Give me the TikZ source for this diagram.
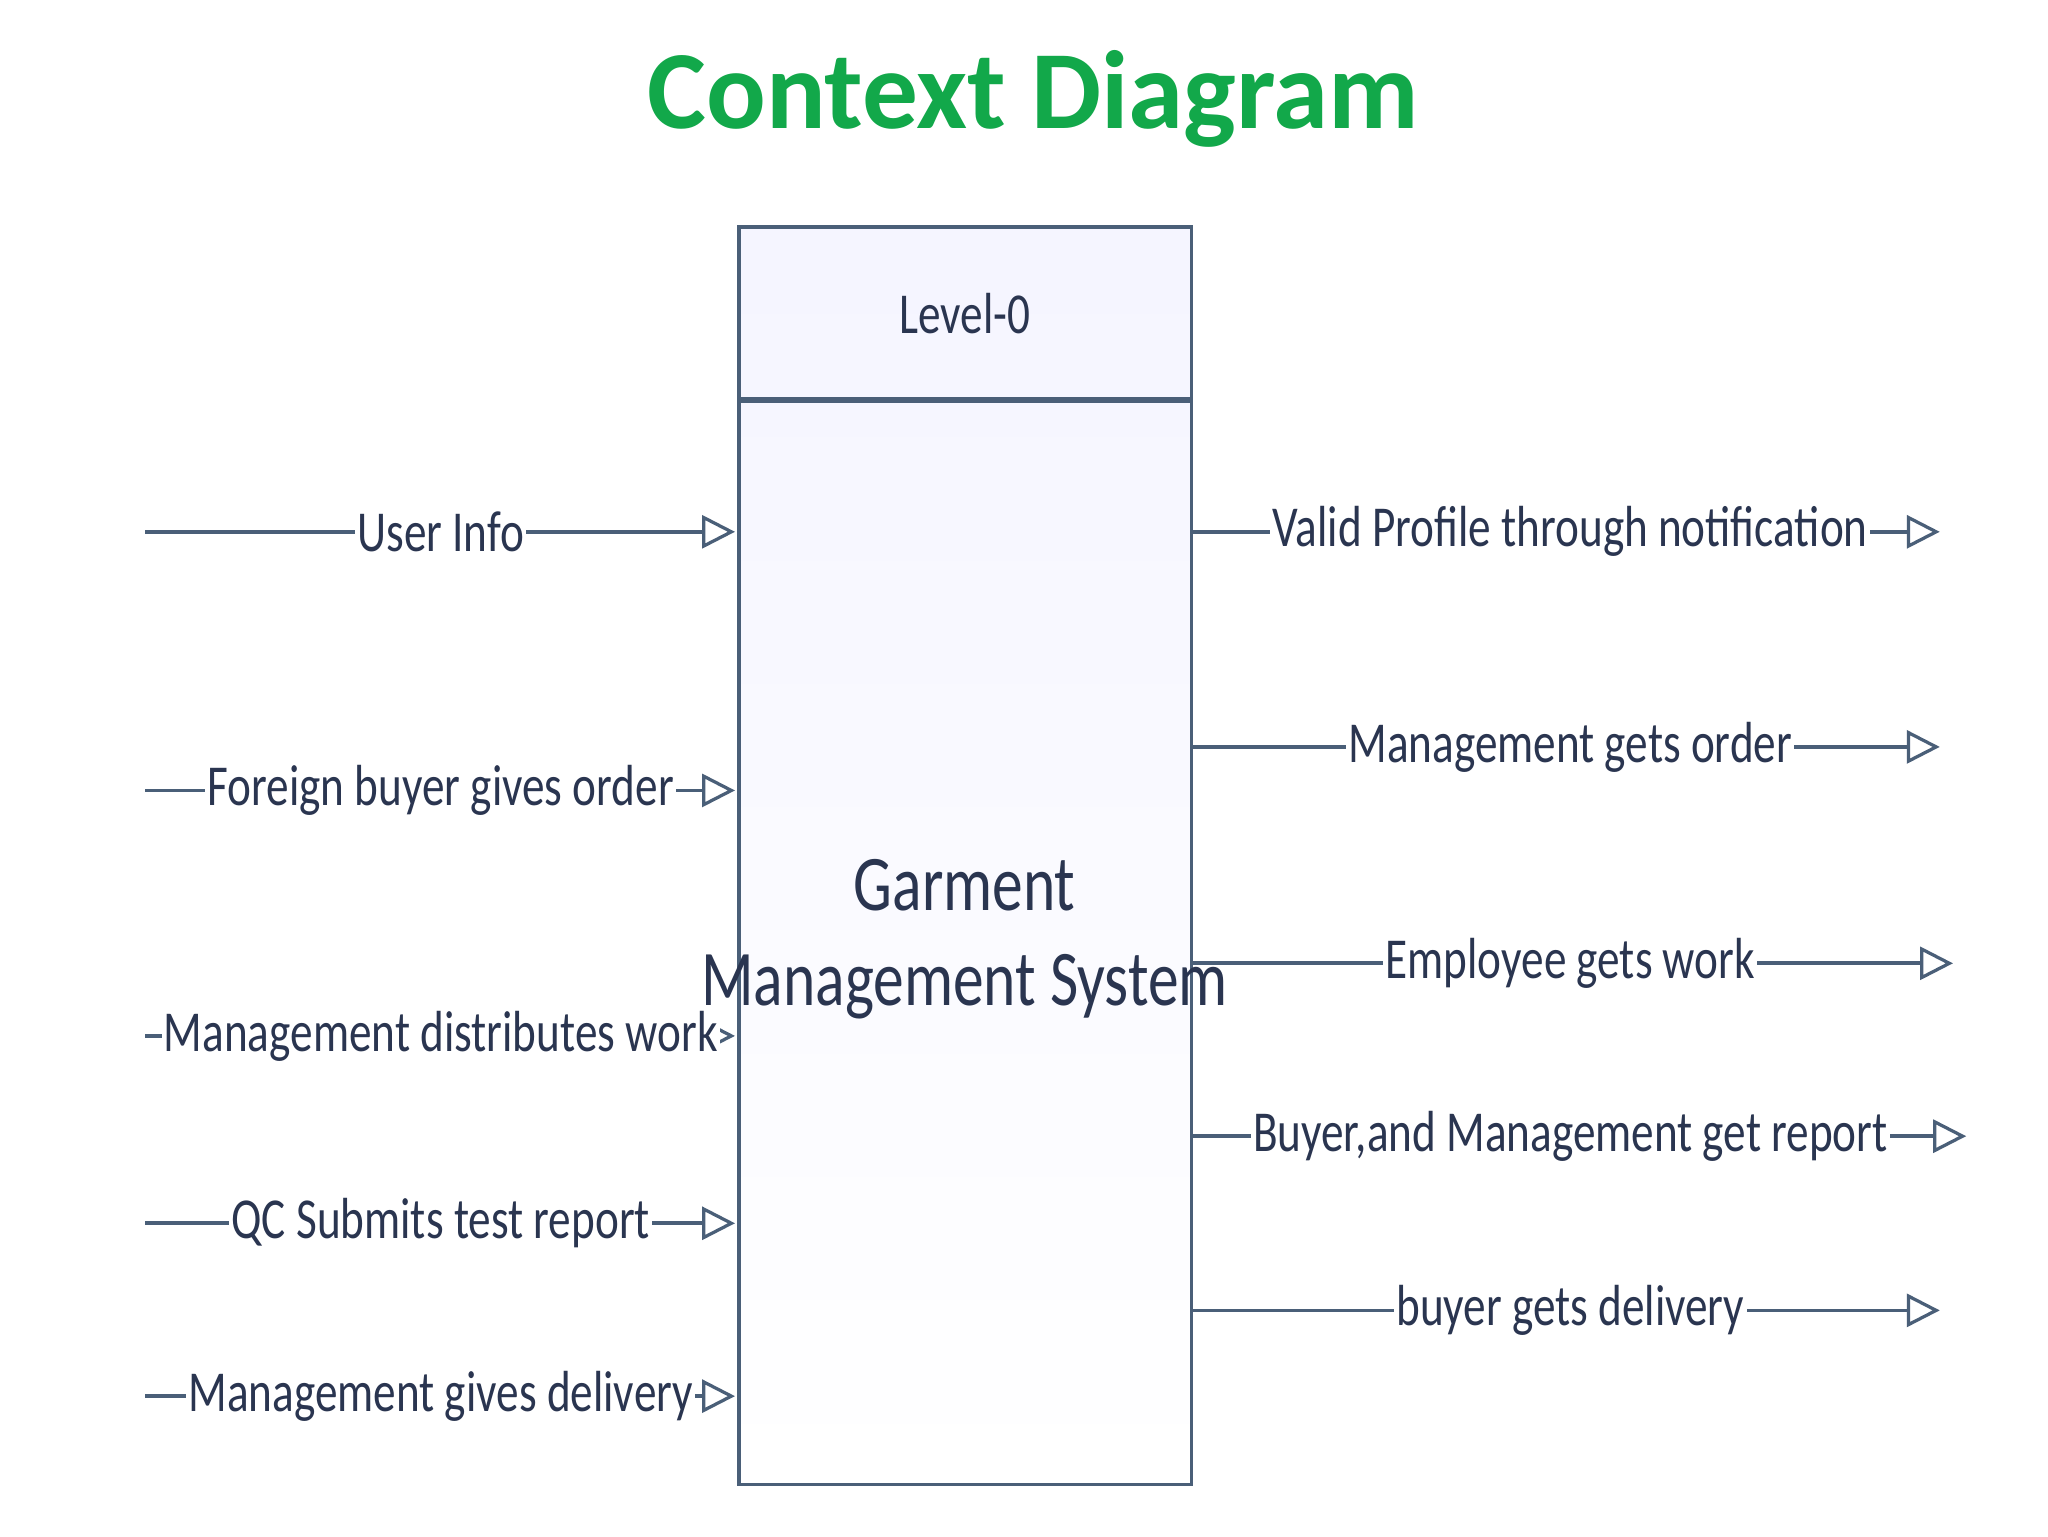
\documentclass[tikz,border=0pt]{standalone}
\usepackage{fontspec}
\usepackage{graphicx}
\setmainfont{Carlito}
\usetikzlibrary{arrows.meta}
\definecolor{ln}{HTML}{4A5F78}
\definecolor{txt}{HTML}{2A3550}
\definecolor{ttl}{HTML}{12A84A}
\newcommand{\nw}[1]{\scalebox{0.78}[1]{#1}}
\begin{document}
\begin{tikzpicture}[x=0.02cm,y=-0.02cm,
  flow/.style={draw=ln,line width=1.6pt,-{Triangle[open,length=0.5cm,width=0.5cm,line width=1.4pt]}},
  lbl/.style={fill=white,inner sep=1pt,text=txt,font=\fontsize{25}{28}\selectfont}]
\useasboundingbox (0,0) rectangle (1552,1164);
\fill[white] (0,0) rectangle (1552,1164);
\node (title) at (783,75) {\fontsize{48}{56}\selectfont\bfseries\color{ttl}Context Diagram};
\draw[ln,line width=1.6pt,top color=blue!4,bottom color=white] (560,172) rectangle (903,1125);
\draw[ln,line width=2.4pt] (560,303) -- (903,303);
\node[text=txt,font=\fontsize{25}{28}\selectfont] (lvl) at (731,238) {\nw{Level-0}};
\node[text=txt,align=center,font=\fontsize{34}{41}\selectfont] (gms) at (731,712) {\nw{Garment}\\\nw{Management System}};
\foreach \y/\t [count=\i] in {403/User Info,599/Foreign buyer gives order,785/Management distributes work,927/QC Submits test report,1058/Management gives delivery}{
  \coordinate (ls\i) at (110,\y);
  \coordinate (le\i) at (557,\y);
  \draw[flow] (ls\i) -- (le\i);
  \node[lbl] (ll\i) at (334,\y) {\nw{\t}};
}
\foreach \y/\e/\t [count=\i] in {403/1470/Valid Profile through notification,566/1470/Management gets order,730/1480/Employee gets work,861/1490/{Buyer,and Management get report},993/1470/buyer gets delivery}{
  \coordinate (rs\i) at (903,\y);
  \coordinate (re\i) at (\e,\y);
  \draw[flow] (rs\i) -- (re\i);
  \node[lbl] (rl\i) at (1190,\y) {\nw{\t}};
}
\end{tikzpicture}
\end{document}
